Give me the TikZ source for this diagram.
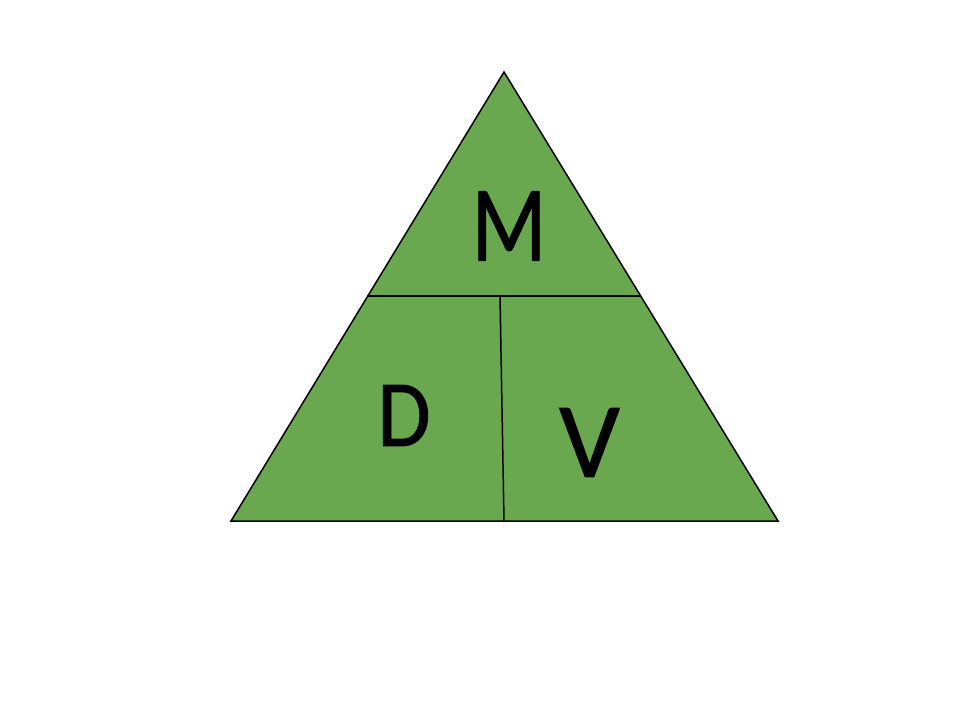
\documentclass[tikz,border=0pt]{standalone}
\usepackage{fontspec}
\setmainfont{Carlito}
\newfontfamily\letterfont{Carlito}[FakeBold=1.0]
\usepackage{tikz}
\usetikzlibrary{calc}
\definecolor{tgreen}{RGB}{106,168,79}

\begin{document}
\begin{tikzpicture}[x=1pt,y=-1pt]
            \useasboundingbox (0,0) rectangle (960,720);
            \coordinate (top) at (504,72);
            \coordinate (bl) at (231,521);
            \coordinate (br) at (778,521);
            \coordinate (ml) at (368,296);
            \coordinate (mr) at (640,296);
            \coordinate (mt) at (500,296);
            \coordinate (mb) at (504,521);
            \draw[line width=1.5pt,fill=tgreen,line join=miter](top)--(br)--(bl)--cycle;
            \draw[line width=1.5pt](ml)--(mr);
            \draw[line width=1.5pt](mt)--(mb);

            \node[inner sep=0pt,font=\letterfont\fontsize{108}{108}\selectfont] (m) at (509,226) {\scalebox{0.81}[1]{M}};
            \node[inner sep=0pt,font=\letterfont\fontsize{95}{95}\selectfont] (d) at (404,415.5) {\scalebox{0.91}[1]{D}};
            \node[inner sep=0pt,font=\letterfont\fontsize{107}{107}\selectfont] (v) at (589.5,442.5) {V};

        \end{tikzpicture}
\end{document}
